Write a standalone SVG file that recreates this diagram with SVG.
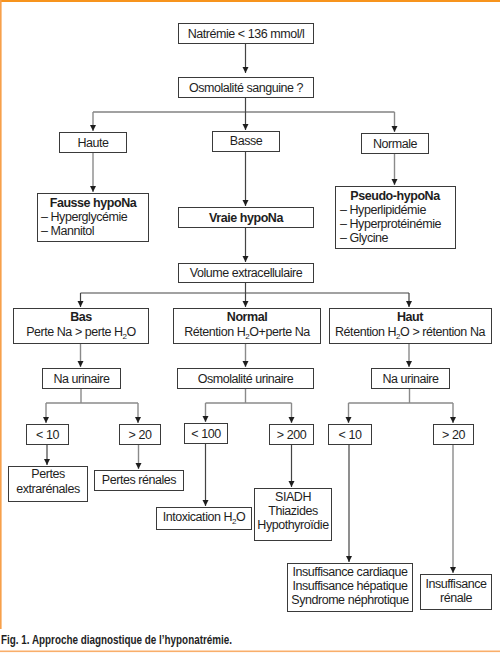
<svg xmlns="http://www.w3.org/2000/svg" width="500" height="660" viewBox="0 0 500 660">
<style>
.bx{fill:#fff;stroke:#3a3a3a;stroke-width:1}
.t{font-family:"Liberation Sans",Arial,sans-serif;font-size:12.5px;letter-spacing:-0.45px;fill:#1e1e1e}
.c{text-anchor:middle}
.b{font-weight:bold}
.sub{font-size:8px}
.k{fill:none;stroke:#444;stroke-width:1.2}
.g{fill:none;stroke:#8a8a8a;stroke-width:1.4}
.cap{font-family:"Liberation Sans",Arial,sans-serif;font-size:12px;font-weight:bold;fill:#1e1e1e}
</style>
<defs>
<marker id="ah" markerUnits="userSpaceOnUse" markerWidth="7" markerHeight="7" refX="6" refY="3" orient="auto">
<path d="M0,0 L6,3 L0,6 z" fill="#1e1e1e"/>
</marker>
</defs>
<rect x="0" y="0" width="500" height="2" fill="#f7941d"/>
<rect x="0" y="0" width="1.6" height="629" fill="#f7a04a"/>
<rect x="0" y="650.5" width="500" height="1.6" fill="#f9ae6a"/>

<g id="connectors">
<line class="k" x1="245.5" y1="43" x2="245.5" y2="73" marker-end="url(#ah)"/>
<polyline class="k" points="245.5,97 245.5,112"/>
<polyline class="k" points="93,112 394.5,112"/>
<line class="g" x1="93" y1="112" x2="93" y2="131" marker-end="url(#ah)"/>
<line class="k" x1="245.5" y1="112" x2="245.5" y2="130" marker-end="url(#ah)"/>
<line class="g" x1="394.5" y1="112" x2="394.5" y2="132" marker-end="url(#ah)"/>
<line class="g" x1="93" y1="152" x2="93" y2="192" marker-end="url(#ah)"/>
<line class="k" x1="245.5" y1="151" x2="245.5" y2="206" marker-end="url(#ah)"/>
<line class="g" x1="394.5" y1="153" x2="394.5" y2="185" marker-end="url(#ah)"/>
<line class="k" x1="245.5" y1="227" x2="245.5" y2="262" marker-end="url(#ah)"/>
<polyline class="k" points="245.5,282 245.5,293"/>
<polyline class="k" points="80.5,293 409,293"/>
<line class="k" x1="80.5" y1="293" x2="80.5" y2="307" marker-end="url(#ah)"/>
<line class="k" x1="245.5" y1="293" x2="245.5" y2="307" marker-end="url(#ah)"/>
<line class="k" x1="409" y1="293" x2="409" y2="307" marker-end="url(#ah)"/>
<line class="g" x1="80.5" y1="343" x2="80.5" y2="367" marker-end="url(#ah)"/>
<line class="g" x1="245.5" y1="343" x2="245.5" y2="367" marker-end="url(#ah)"/>
<line class="g" x1="409" y1="343" x2="409" y2="367" marker-end="url(#ah)"/>
<polyline class="g" points="81,388 81,403"/>
<polyline class="g" points="46,403 138,403"/>
<line class="g" x1="46" y1="403" x2="46" y2="423" marker-end="url(#ah)"/>
<line class="g" x1="138" y1="403" x2="138" y2="423" marker-end="url(#ah)"/>
<polyline class="g" points="245.5,388 245.5,403"/>
<polyline class="g" points="205.5,403 291.5,403"/>
<line class="g" x1="205.5" y1="403" x2="205.5" y2="422" marker-end="url(#ah)"/>
<line class="g" x1="291.5" y1="403" x2="291.5" y2="423" marker-end="url(#ah)"/>
<polyline class="g" points="409.5,388 409.5,403"/>
<polyline class="g" points="348.5,403 453,403"/>
<line class="g" x1="348.5" y1="403" x2="348.5" y2="423" marker-end="url(#ah)"/>
<line class="g" x1="453" y1="403" x2="453" y2="423" marker-end="url(#ah)"/>
<line class="k" x1="47" y1="444" x2="47" y2="465" marker-end="url(#ah)"/>
<line class="g" x1="138.5" y1="444" x2="138.5" y2="469" marker-end="url(#ah)"/>
<line class="k" x1="205.5" y1="443" x2="205.5" y2="506" marker-end="url(#ah)"/>
<line class="k" x1="291.5" y1="444" x2="291.5" y2="487" marker-end="url(#ah)"/>
<line class="k" x1="349" y1="444" x2="349" y2="562" marker-end="url(#ah)"/>
<line class="g" x1="453" y1="444" x2="453" y2="573" marker-end="url(#ah)"/>
</g>

<g id="n-natremie"><rect class="bx" x="178.5" y="23.5" width="135" height="20"/><text class="t c" x="246" y="37.5">Natrémie &lt; 136 mmol/l</text></g>
<g id="n-osmo-sang"><rect class="bx" x="178.5" y="77.5" width="135" height="20"/><text class="t c" x="246" y="91.5">Osmolalité sanguine ?</text></g>
<g id="n-haute"><rect class="bx" x="59.5" y="132.5" width="67" height="20"/><text class="t c" x="93" y="146.5">Haute</text></g>
<g id="n-basse"><rect class="bx" x="212.5" y="131.5" width="67" height="20"/><text class="t c" x="246" y="145">Basse</text></g>
<g id="n-normale"><rect class="bx" x="361.5" y="133.5" width="67" height="20"/><text class="t c" x="395" y="147.5">Normale</text></g>
<g id="n-fausse"><rect class="bx" x="37.5" y="193.5" width="111" height="48"/>
<text class="t c b" x="93" y="207">Fausse hypoNa</text>
<text class="t" x="41" y="221">– Hyperglycémie</text>
<text class="t" x="41" y="235">– Mannitol</text></g>
<g id="n-vraie"><rect class="bx" x="178.5" y="207.5" width="135" height="20"/><text class="t c b" x="246" y="221.5">Vraie hypoNa</text></g>
<g id="n-pseudo"><rect class="bx" x="335.5" y="186.5" width="120" height="62"/>
<text class="t c b" x="395" y="199.5">Pseudo-hypoNa</text>
<text class="t" x="340" y="213.5">– Hyperlipidémie</text>
<text class="t" x="340" y="227.5">– Hyperprotéinémie</text>
<text class="t" x="340" y="242">– Glycine</text></g>
<g id="n-volume"><rect class="bx" x="178.5" y="263.5" width="135" height="19"/><text class="t c" x="246" y="277">Volume extracellulaire</text></g>
<g id="n-bas"><rect class="bx" x="13.5" y="308.5" width="135" height="35"/>
<text class="t c b" x="81" y="321">Bas</text>
<text class="t c" x="81" y="336">Perte Na &gt; perte H<tspan class="sub" dy="3">2</tspan><tspan dy="-3">O</tspan></text></g>
<g id="n-normal"><rect class="bx" x="173.5" y="308.5" width="147" height="35"/>
<text class="t c b" x="247" y="321">Normal</text>
<text class="t c" x="247" y="336">Rétention H<tspan class="sub" dy="3">2</tspan><tspan dy="-3">O+perte Na</tspan></text></g>
<g id="n-haut"><rect class="bx" x="329.5" y="308.5" width="162" height="35"/>
<text class="t c b" x="410" y="321">Haut</text>
<text class="t c" x="410" y="336">Rétention H<tspan class="sub" dy="3">2</tspan><tspan dy="-3">O &gt; rétention Na</tspan></text></g>
<g id="n-na-l"><rect class="bx" x="42.5" y="368.5" width="78" height="20"/><text class="t c" x="81.5" y="382.5">Na urinaire</text></g>
<g id="n-osmo-ur"><rect class="bx" x="177.5" y="368.5" width="136" height="20"/><text class="t c" x="245.5" y="382.5">Osmolalité urinaire</text></g>
<g id="n-na-r"><rect class="bx" x="371.5" y="368.5" width="78" height="20"/><text class="t c" x="410.5" y="382.5">Na urinaire</text></g>
<g id="n-lt10-l"><rect class="bx" x="26.5" y="424.5" width="42" height="20"/><text class="t c" x="47.5" y="438.5">&lt; 10</text></g>
<g id="n-gt20-l"><rect class="bx" x="119.5" y="424.5" width="41" height="20"/><text class="t c" x="140" y="438.5">&gt; 20</text></g>
<g id="n-lt100"><rect class="bx" x="184.5" y="423.5" width="43" height="20"/><text class="t c" x="206" y="437.5">&lt; 100</text></g>
<g id="n-gt200"><rect class="bx" x="269.5" y="424.5" width="44" height="20"/><text class="t c" x="291.5" y="438.5">&gt; 200</text></g>
<g id="n-lt10-r"><rect class="bx" x="328.5" y="424.5" width="43" height="20"/><text class="t c" x="350" y="438.5">&lt; 10</text></g>
<g id="n-gt20-r"><rect class="bx" x="433.5" y="424.5" width="40" height="20"/><text class="t c" x="453.5" y="438.5">&gt; 20</text></g>
<g id="n-pertes-extra"><rect class="bx" x="8.5" y="466.5" width="79" height="35"/>
<text class="t c" x="48" y="478">Pertes</text>
<text class="t c" x="48" y="492.5">extrarénales</text></g>
<g id="n-pertes-ren"><rect class="bx" x="94.5" y="470.5" width="89" height="20"/><text class="t c" x="139" y="484">Pertes rénales</text></g>
<g id="n-intox"><rect class="bx" x="156.5" y="507.5" width="95" height="22"/><text class="t c" x="204" y="521">Intoxication H<tspan class="sub" dy="3">2</tspan><tspan dy="-3">O</tspan></text></g>
<g id="n-siadh"><rect class="bx" x="254.5" y="488.5" width="77" height="52"/>
<text class="t c" x="293" y="501">SIADH</text>
<text class="t c" x="293" y="515">Thiazides</text>
<text class="t c" x="293" y="529">Hypothyroïdie</text></g>
<g id="n-insuff"><rect class="bx" x="287.5" y="563.5" width="125" height="48"/>
<text class="t c" x="350" y="576">Insuffisance cardiaque</text>
<text class="t c" x="350" y="590">Insuffisance hépatique</text>
<text class="t c" x="350" y="604">Syndrome néphrotique</text></g>
<g id="n-insuff-ren"><rect class="bx" x="420.5" y="574.5" width="71" height="35"/>
<text class="t c" x="456" y="588">Insuffisance</text>
<text class="t c" x="456" y="602">rénale</text></g>

<text class="cap" x="1" y="644" textLength="231" lengthAdjust="spacingAndGlyphs">Fig. 1. Approche diagnostique de l’hyponatrémie.</text>
</svg>
